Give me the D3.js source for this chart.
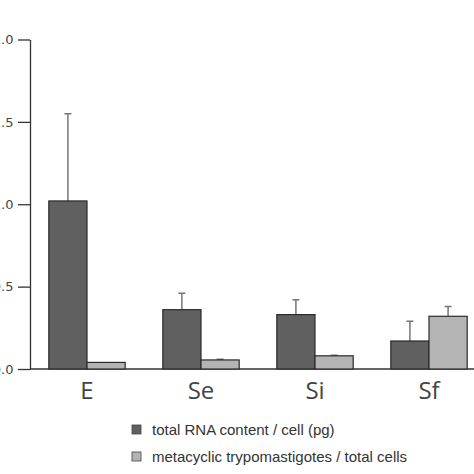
<!DOCTYPE html>
<html>
<head>
<meta charset="utf-8">
<script src="https://cdn.jsdelivr.net/npm/d3@7"></script>
<style>
  body { margin: 0; background: #fff; }
  .axis path, .axis line { stroke: #333; stroke-width: 1.3; }
  .axis text { font-family: "Open Sans", "DejaVu Sans", sans-serif; fill: #444; }
</style>
</head>
<body>
<svg width="474" height="474"></svg>
<script>
const stages = ['E', 'Se', 'Si', 'Sf'];
const seriesNames = ['total RNA content / cell (pg)', 'metacyclic trypomastigotes / total cells'];
const rnaValues = [1.02, 0.36, 0.33, 0.17];
const rnaErrors = [0.53, 0.10, 0.09, 0.12];
const metaValues = [0.04, 0.055, 0.08, 0.32];
const metaErrors = [0, 0.004, 0.003, 0.06];
const yTicks = [0, 0.5, 1.0, 1.5, 2.0];

const colors = ['#606060', '#b4b4b4'];

const svg = d3.select('svg');
const margin = { top: 39.5, left: 30, bottom: 105 };
const y0 = 474 - margin.bottom;

const data = stages.map((s, i) => ({
    stage: s,
    values: [
        { key: 0, value: rnaValues[i], err: rnaErrors[i] },
        { key: 1, value: metaValues[i], err: metaErrors[i] }
    ]
}));

// Skalowanie
const x = d3.scaleBand()
    .domain(stages)
    .range([margin.left, 486])
    .paddingInner(0.33)
    .paddingOuter(0.165);

const x1 = d3.scaleBand()
    .domain([0, 1])
    .range([0, x.bandwidth()]);

const y = d3.scaleLinear()
    .domain([0, 2])
    .range([y0, margin.top]);

// oś x - linia bazowa i etykiety
svg.append('g')
    .attr('class', 'axis')
    .attr('transform', `translate(0,${y0})`)
    .call(d3.axisBottom(x).tickSize(0).tickSizeOuter(0))
    .call(g => g.select('.domain').attr('d', `M${margin.left},0H474`))
    .selectAll('text')
    .attr('dy', 0)
    .attr('y', 30)
    .style('font-size', '24px');

// oś y
svg.append('g')
    .attr('class', 'axis')
    .attr('transform', `translate(${margin.left},0)`)
    .call(d3.axisLeft(y)
        .tickValues(yTicks)
        .tickFormat(d3.format('.1f'))
        .tickSize(12)
        .tickPadding(4.5)
        .tickSizeOuter(0))
    .selectAll('text')
    .style('font-family', '"DejaVu Sans", sans-serif')
    .style('font-size', '13px');

const groups = svg.selectAll('.group')
    .data(data)
    .enter().append('g')
    .attr('class', 'group')
    .attr('transform', d => `translate(${x(d.stage)},0)`);

// słupki błędów
groups.selectAll('.err')
    .data(d => d.values.filter(v => v.err > 0))
    .enter().append('path')
    .attr('class', 'err')
    .attr('fill', 'none')
    .attr('stroke', '#777')
    .attr('stroke-width', 1.5)
    .attr('d', d => {
        const cx = x1(d.key) + x1.bandwidth() / 2;
        const top = y(d.value + d.err);
        return `M${cx},${y(d.value)}V${top}M${cx - 3.5},${top}H${cx + 3.5}`;
    });

// słupki
groups.selectAll('.bar')
    .data(d => d.values)
    .enter().append('rect')
    .attr('class', 'bar')
    .attr('x', d => x1(d.key))
    .attr('y', d => y(d.value))
    .attr('width', x1.bandwidth())
    .attr('height', d => y0 - y(d.value))
    .attr('fill', d => colors[d.key])
    .attr('stroke', '#2a2a2a')
    .attr('stroke-width', 1.2);

// legenda
const legend = svg.selectAll('.legend')
    .data(seriesNames)
    .enter().append('g')
    .attr('class', 'legend')
    .attr('transform', (d, i) => `translate(132,${425 + i * 27})`);

legend.append('rect')
    .attr('width', 9)
    .attr('height', 9)
    .attr('fill', (d, i) => colors[i])
    .attr('stroke', '#444')
    .attr('stroke-width', 0.8);

legend.append('text')
    .attr('x', 20)
    .attr('y', 10)
    .attr('fill', '#333')
    .style('font-family', '"Liberation Sans", Arial, sans-serif')
    .style('font-size', '15px')
    .text(d => d);
</script>
</body>
</html>
